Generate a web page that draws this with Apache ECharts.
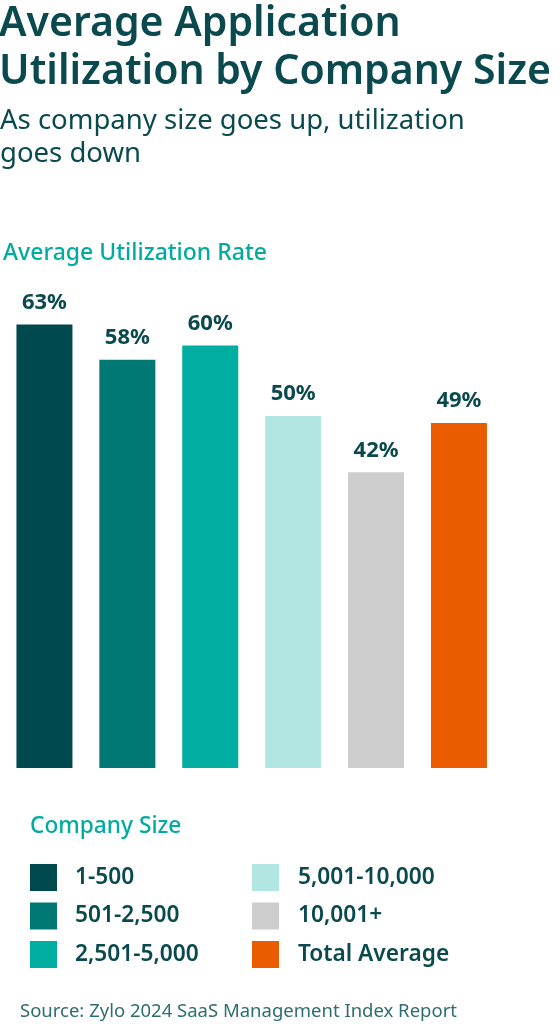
<!DOCTYPE html>
<html>
<head>
    <meta charset="utf-8">
    <title>Average Application Utilization by Company Size</title>
    <style>
        html, body { margin: 0; padding: 0; background: #fff; }
        #chart { width: 560px; height: 1024px; }
    </style>
</head>
<body>
    <div id="chart"></div>
    <script src="https://cdn.jsdelivr.net/npm/echarts@6/dist/echarts.min.js"></script>
    <script>
        // data
        var categories = ['1-500', '501-2,500', '2,501-5,000', '5,001-10,000', '10,001+', 'Total Average'];
        var utilization = [63, 58, 60, 50, 42, 49];

        var barColors = ['#004a4f', '#007874', '#00ada1', '#b2e6e2', '#cdcdcd', '#eb5c00'];
        var dark = '#0a4a4f';
        var teal = '#00ab9f';
        var font = 'Noto Sans';

        var chart = echarts.init(document.getElementById('chart'));

        // one series per company size so the legend gets its own swatch for each
        var series = categories.map(function (name, i) {
            return {
                name: name,
                type: 'bar',
                stack: 'one',
                barWidth: 56,
                itemStyle: { color: barColors[i] },
                label: {
                    show: true,
                    position: 'top',
                    distance: 11,
                    formatter: '{c}%',
                    fontFamily: font,
                    fontSize: 22,
                    fontWeight: 'bold',
                    color: dark
                },
                data: categories.map(function (c, j) { return j === i ? utilization[i] : '-'; })
            };
        });

        var legendText = {
            fontFamily: font,
            fontSize: 22.7,
            fontWeight: 600,
            color: dark
        };

        var option = {
            animation: false,
            backgroundColor: '#fff',
            title: [
                {
                    text: 'Average Application\nUtilization by Company Size',
                    left: -1, top: 0, padding: 0,
                    textStyle: { fontFamily: font, fontSize: 41, fontWeight: 600, lineHeight: 48, color: dark }
                },
                {
                    text: 'As company size goes up, utilization\ngoes down',
                    left: 0, top: 105, padding: 0,
                    textStyle: { fontFamily: font, fontSize: 27.5, fontWeight: 400, lineHeight: 33, color: dark }
                },
                {
                    text: 'Average Utilization Rate',
                    left: 3, top: 240, padding: 0,
                    textStyle: { fontFamily: font, fontSize: 23, fontWeight: 500, lineHeight: 26, color: teal }
                },
                {
                    text: 'Company Size',
                    left: 30, top: 814, padding: 0,
                    textStyle: { fontFamily: font, fontSize: 22.7, fontWeight: 500, lineHeight: 26, color: teal }
                },
                {
                    text: 'Source: Zylo 2024 SaaS Management Index Report',
                    left: 20, top: 1001, padding: 0,
                    textStyle: { fontFamily: font, fontSize: 18.5, fontWeight: 400, lineHeight: 22, color: '#2e6e70' }
                }
            ],
            legend: [
                {
                    data: categories.slice(0, 3),
                    orient: 'vertical',
                    left: 30, top: 864, padding: 0,
                    itemWidth: 27, itemHeight: 27, itemGap: 11.5,
                    icon: 'rect',
                    selectedMode: false,
                    textStyle: Object.assign({ padding: [0, 0, 0, 13] }, legendText)
                },
                {
                    data: categories.slice(3),
                    orient: 'vertical',
                    left: 252, top: 864, padding: 0,
                    itemWidth: 27, itemHeight: 27, itemGap: 11.5,
                    icon: 'rect',
                    selectedMode: false,
                    textStyle: Object.assign({ padding: [0, 0, 0, 14] }, legendText)
                }
            ],
            grid: { left: 3, width: 497.4, top: 64, bottom: 256 },
            xAxis: {
                type: 'category',
                data: categories,
                show: false
            },
            yAxis: {
                type: 'value',
                min: 0,
                max: 100,
                show: false
            },
            series: series
        };

        chart.setOption(option);
        window.addEventListener('resize', function () {
            chart.resize();
        });
    </script>
</body>
</html>
